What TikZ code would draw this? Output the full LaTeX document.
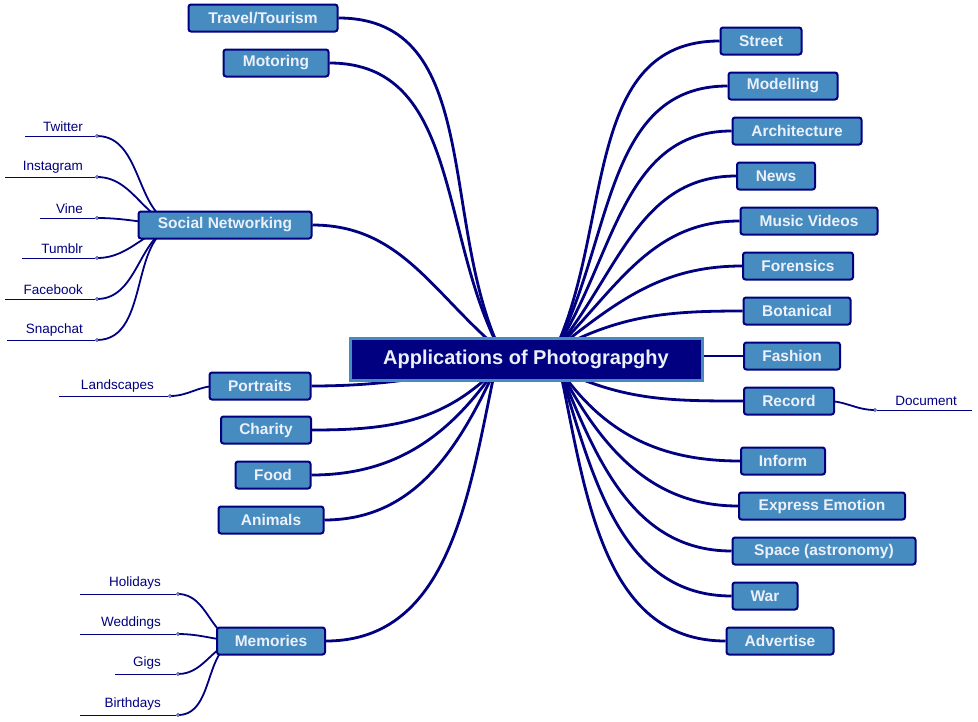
\documentclass[tikz,border=0pt]{standalone}
\usepackage{fontspec}
\setmainfont{Liberation Sans}
\usetikzlibrary{backgrounds}
\begin{document}
\begin{tikzpicture}[x=1pt,y=-1pt]
\definecolor{nv}{RGB}{0,0,128}
\definecolor{bx}{RGB}{70,140,192}
\definecolor{tx}{RGB}{235,240,250}
\tikzset{
 br/.style={draw=nv,line width=2pt,fill=bx,rounded corners=2.5pt,text=tx,font=\fontsize{15.5}{16}\selectfont\bfseries,minimum height=27pt,inner xsep=0pt},
 con/.style={draw=nv,line width=2.8pt},
 lf/.style={draw=nv,line width=0.7pt},
 lft/.style={text=nv,font=\fontsize{13.5}{14}\selectfont,anchor=south east,inner sep=1pt},
 dot/.style={circle,draw=nv,fill=white,inner sep=0pt,minimum size=3pt,line width=0.5pt},
 lc/.style={draw=nv,line width=1.8pt},
}
\useasboundingbox (0,0) rectangle (978,721);
\node[draw=bx,line width=3pt,fill=nv,text=tx,font=\fontsize{20}{20}\selectfont\bfseries,minimum width=352pt,minimum height=42pt] (c) at (526,359) {Applications of Photograpghy};
\coordinate (lt) at (500,350); \coordinate (lb) at (495,370);
\coordinate (rt) at (555,350); \coordinate (rb) at (560,370);
% left
\node[br,minimum width=149pt] (tr) at (263,18) {Travel/Tourism};
\node[br,minimum width=105pt] (mo) at (276,63) {Motoring};
\node[br,minimum width=173pt] (sn) at (225,225) {Social Networking};
\node[br,minimum width=101pt] (po) at (260,386) {Portraits};
\node[br,minimum width=90pt] (ch) at (266,430) {Charity};
\node[br,minimum width=75pt] (fo) at (273,475) {Food};
\node[br,minimum width=105pt] (an) at (271,520) {Animals};
\node[br,minimum width=108pt] (me) at (271,641) {Memories};
% right
\node[br,minimum width=81pt] (st) at (761,41) {Street};
\node[br,minimum width=109pt] (md) at (783,86) {Modelling};
\node[br,minimum width=129pt] (ar) at (797,131) {Architecture};
\node[br,minimum width=78pt] (ne) at (776,176) {News};
\node[br,minimum width=137pt] (mv) at (809,221) {Music Videos};
\node[br,minimum width=110pt] (fr) at (798,266) {Forensics};
\node[br,minimum width=107pt] (bo) at (797,311) {Botanical};
\node[br,minimum width=96pt] (fa) at (792,356) {Fashion};
\node[br,minimum width=90pt] (re) at (789,401) {Record};
\node[br,minimum width=84pt] (in) at (783,461) {Inform};
\node[br,minimum width=166pt] (ee) at (822,506) {Express Emotion};
\node[br,minimum width=183pt] (sp) at (824,551) {Space (astronomy)};
\node[br,minimum width=65pt] (wa) at (765,596) {War};
\node[br,minimum width=107pt] (ad) at (780,641) {Advertise};
\begin{pgfonlayer}{background}
\draw[con] (tr.east) to[out=0,in=115] (lt);
\draw[con] (mo.east) to[out=0,in=118] (lt);
\draw[con] (sn.east) to[out=0,in=140] (lt);
\draw[con] (po.east) to[out=0,in=190] (c.center);
\draw[con] (ch.east) to[out=0,in=225] (lb);
\draw[con] (fo.east) to[out=0,in=235] (lb);
\draw[con] (an.east) to[out=0,in=245] (lb);
\draw[con] (me.east) to[out=0,in=258] (lb);
\draw[con] (st.west) to[out=180,in=65] (rt);
\draw[con] (md.west) to[out=180,in=62] (rt);
\draw[con] (ar.west) to[out=180,in=57] (rt);
\draw[con] (ne.west) to[out=180,in=50] (rt);
\draw[con] (mv.west) to[out=180,in=45] (rt);
\draw[con] (fr.west) to[out=180,in=38] (rt);
\draw[con] (bo.west) to[out=180,in=28] (rt);
\draw[con] (fa.west) -- (c.center|-fa.west);
\draw[con] (re.west) to[out=180,in=-25] (rb);
\draw[con] (in.west) to[out=180,in=-55] (rb);
\draw[con] (ee.west) to[out=180,in=-62] (rb);
\draw[con] (sp.west) to[out=180,in=-68] (rb);
\draw[con] (wa.west) to[out=180,in=-73] (rb);
\draw[con] (ad.west) to[out=180,in=-78] (rb);
\foreach \y in {136,177,218,258,299,340}{
 \draw[lc] (97,\y) to[out=0,in=180] ([xshift=45pt]sn.west);}
\foreach \y in {594,634,674,715}{
 \draw[lc] (178,\y) to[out=0,in=180] ([xshift=25pt]me.west);}
\draw[lc] (170,396) to[out=0,in=180] ([xshift=8pt]po.west);
\draw[lc] ([xshift=-8pt]re.east) to[out=0,in=180] (875,410);
\end{pgfonlayer}
% leaves social
\foreach \n/\t/\y/\a in {tw/Twitter/136/25,ig/Instagram/177/5,vi/Vine/218/40,tu/Tumblr/258/22,fb/Facebook/299/5,sc/Snapchat/340/7}{
 \coordinate (\n a) at (\a,\y);
 \node[dot] (\n) at (97,\y) {};
 \draw[lf] (\n a) -- (\n);
 \node[lft] (\n t) at (84,\y-3) {\t};
}
% landscapes
\coordinate (lsa) at (59,396);
\node[dot] (ls) at (170,396) {};
\draw[lf] (lsa) -- (ls);
\node[lft] (lst) at (155,393) {Landscapes};
% memories
\foreach \n/\t/\y/\a in {ho/Holidays/594/80,we/Weddings/634/80,gi/Gigs/674/115,bi/Birthdays/715/80}{
 \coordinate (\n a) at (\a,\y);
 \node[dot] (\n) at (178,\y) {};
 \draw[lf] (\n a) -- (\n);
 \node[lft] (\n t) at (162,\y-4) {\t};
}
% document
\node[dot] (dc) at (875,410) {};
\coordinate (dca) at (972,410);
\draw[lf] (dc) -- (dca);
\node[lft] (dct) at (958,407) {Document};
\end{tikzpicture}
\end{document}
